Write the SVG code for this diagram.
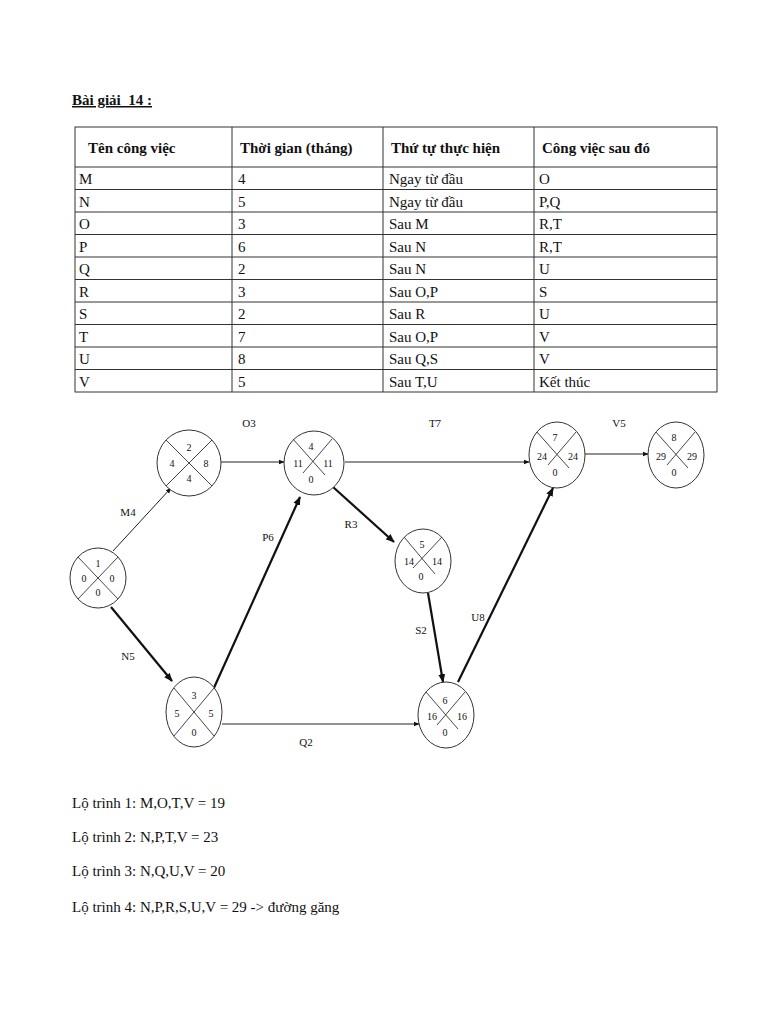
<svg xmlns="http://www.w3.org/2000/svg" width="768" height="1024" viewBox="0 0 768 1024">
<defs>
<style>
text{font-family:"Liberation Serif","Times New Roman",serif;fill:#111}
.t{font-size:15px}
.h{font-size:15px;font-weight:bold}
.n{font-size:10px;text-anchor:middle}
.l{font-size:11px;text-anchor:middle}
.grid{stroke:#333;stroke-width:1;fill:none}
.node{fill:#fff;stroke:#333;stroke-width:1}
.x{stroke:#333;stroke-width:0.9}
.thin{stroke:#222;stroke-width:1;fill:none}
.thick{stroke:#111;stroke-width:2.2;fill:none}
</style>
<marker id="a" viewBox="0 0 10 10" refX="9" refY="5" markerWidth="6" markerHeight="6" markerUnits="userSpaceOnUse" orient="auto"><path d="M0,1 L10,5 L0,9 z" fill="#111"/></marker>
<marker id="ab" viewBox="0 0 10 10" refX="9" refY="5" markerWidth="4" markerHeight="4" orient="auto"><path d="M0,1 L10,5 L0,9 z" fill="#111"/></marker>
</defs>
<rect width="768" height="1024" fill="#fff"/>

<text x="72" y="105" class="h" text-decoration="underline" style="white-space:pre">Bài giải  14 :</text>

<g id="table">
<rect x="75" y="127" width="642" height="265" class="grid"/>
<g class="grid">
<line x1="75" y1="167" x2="717" y2="167"/>
<line x1="75" y1="189.5" x2="717" y2="189.5"/>
<line x1="75" y1="212" x2="717" y2="212"/>
<line x1="75" y1="234.5" x2="717" y2="234.5"/>
<line x1="75" y1="257" x2="717" y2="257"/>
<line x1="75" y1="279.5" x2="717" y2="279.5"/>
<line x1="75" y1="302" x2="717" y2="302"/>
<line x1="75" y1="324.5" x2="717" y2="324.5"/>
<line x1="75" y1="347" x2="717" y2="347"/>
<line x1="75" y1="369.5" x2="717" y2="369.5"/>
<line x1="232" y1="127" x2="232" y2="392"/>
<line x1="383" y1="127" x2="383" y2="392"/>
<line x1="534" y1="127" x2="534" y2="392"/>
</g>
<text x="88" y="153" class="h">Tên công việc</text>
<text x="240" y="153" class="h">Thời gian (tháng)</text>
<text x="391" y="153" class="h">Thứ tự thực hiện</text>
<text x="542" y="153" class="h">Công việc sau đó</text>
<g>
<text x="79" y="184" class="t">M</text><text x="238" y="184" class="t">4</text><text x="389" y="184" class="t">Ngay từ đầu</text><text x="539" y="184" class="t">O</text>
<text x="79" y="206.5" class="t">N</text><text x="238" y="206.5" class="t">5</text><text x="389" y="206.5" class="t">Ngay từ đầu</text><text x="539" y="206.5" class="t">P,Q</text>
<text x="79" y="229" class="t">O</text><text x="238" y="229" class="t">3</text><text x="389" y="229" class="t">Sau M</text><text x="539" y="229" class="t">R,T</text>
<text x="79" y="251.5" class="t">P</text><text x="238" y="251.5" class="t">6</text><text x="389" y="251.5" class="t">Sau N</text><text x="539" y="251.5" class="t">R,T</text>
<text x="79" y="274" class="t">Q</text><text x="238" y="274" class="t">2</text><text x="389" y="274" class="t">Sau N</text><text x="539" y="274" class="t">U</text>
<text x="79" y="296.5" class="t">R</text><text x="238" y="296.5" class="t">3</text><text x="389" y="296.5" class="t">Sau O,P</text><text x="539" y="296.5" class="t">S</text>
<text x="79" y="319" class="t">S</text><text x="238" y="319" class="t">2</text><text x="389" y="319" class="t">Sau R</text><text x="539" y="319" class="t">U</text>
<text x="79" y="341.5" class="t">T</text><text x="238" y="341.5" class="t">7</text><text x="389" y="341.5" class="t">Sau O,P</text><text x="539" y="341.5" class="t">V</text>
<text x="79" y="364" class="t">U</text><text x="238" y="364" class="t">8</text><text x="389" y="364" class="t">Sau Q,S</text><text x="539" y="364" class="t">V</text>
<text x="79" y="386.5" class="t">V</text><text x="238" y="386.5" class="t">5</text><text x="389" y="386.5" class="t">Sau T,U</text><text x="539" y="386.5" class="t">Kết thúc</text>
</g>
</g>

<g id="connectors">
<line x1="113" y1="551" x2="171" y2="488" class="thin" marker-end="url(#a)"/>
<line x1="111" y1="607" x2="172" y2="681" class="thick" marker-end="url(#ab)"/>
<line x1="221" y1="462" x2="284" y2="462" class="thin" marker-end="url(#a)"/>
<line x1="213" y1="690" x2="300" y2="497" class="thick" marker-end="url(#ab)"/>
<line x1="333" y1="487" x2="394" y2="542" class="thick" marker-end="url(#ab)"/>
<line x1="345" y1="462" x2="529" y2="462" class="thin" marker-end="url(#a)"/>
<line x1="222" y1="724" x2="419" y2="724" class="thin" marker-end="url(#a)"/>
<line x1="428" y1="593" x2="443" y2="682" class="thick" marker-end="url(#ab)"/>
<line x1="458" y1="682" x2="553" y2="488" class="thick" marker-end="url(#ab)"/>
<line x1="585" y1="454" x2="648" y2="454" class="thin" stroke-width="1.5" marker-end="url(#a)"/>
<text x="128" y="516" class="l">M4</text>
<text x="128" y="660" class="l">N5</text>
<text x="249" y="427" class="l">O3</text>
<text x="268" y="541" class="l">P6</text>
<text x="351" y="528" class="l">R3</text>
<text x="435" y="427" class="l">T7</text>
<text x="306" y="746" class="l">Q2</text>
<text x="421" y="634" class="l">S2</text>
<text x="478" y="621" class="l">U8</text>
<text x="619" y="427" class="l">V5</text>
</g>

<g id="n1">
<ellipse cx="98" cy="578" rx="28" ry="30" class="node"/>
<line x1="78" y1="557" x2="118" y2="599" class="x"/><line x1="118" y1="557" x2="78" y2="599" class="x"/>
<text x="98" y="567" class="n">1</text><text x="84" y="582" class="n">0</text><text x="112" y="582" class="n">0</text><text x="98" y="596" class="n">0</text>
</g>
<g id="n2">
<ellipse cx="189" cy="463" rx="32" ry="33" class="node"/>
<line x1="166" y1="440" x2="212" y2="486" class="x"/><line x1="212" y1="440" x2="166" y2="486" class="x"/>
<text x="189" y="451" class="n">2</text><text x="172" y="467" class="n">4</text><text x="206" y="467" class="n">8</text><text x="189" y="482" class="n">4</text>
</g>
<g id="n3">
<ellipse cx="194" cy="712" rx="28" ry="35" class="node"/>
<line x1="174" y1="688" x2="214" y2="736" class="x"/><line x1="214" y1="688" x2="174" y2="736" class="x"/>
<text x="194" y="699" class="n">3</text><text x="177" y="717" class="n">5</text><text x="211" y="717" class="n">5</text><text x="194" y="736" class="n">0</text>
</g>
<g id="n4">
<ellipse cx="314" cy="463" rx="30" ry="32" class="node"/>
<line x1="293" y1="439" x2="325" y2="475" class="x"/><line x1="332" y1="439" x2="303" y2="473" class="x"/>
<text x="311" y="450" class="n">4</text><text x="298" y="467" class="n">11</text><text x="328" y="467" class="n">11</text><text x="311" y="483" class="n">0</text>
</g>
<g id="n5">
<ellipse cx="423" cy="561" rx="28" ry="32" class="node"/>
<line x1="404" y1="537" x2="435" y2="574" class="x"/><line x1="442" y1="537" x2="413" y2="568" class="x"/>
<text x="422" y="548" class="n">5</text><text x="409" y="565" class="n">14</text><text x="437" y="565" class="n">14</text><text x="421" y="580" class="n">0</text>
</g>
<g id="n6">
<ellipse cx="446" cy="715" rx="28" ry="33" class="node"/>
<line x1="426" y1="692" x2="458" y2="729" class="x"/><line x1="465" y1="692" x2="437" y2="725" class="x"/>
<text x="445" y="704" class="n">6</text><text x="432" y="720" class="n">16</text><text x="462" y="720" class="n">16</text><text x="445" y="736" class="n">0</text>
</g>
<g id="n7">
<ellipse cx="557" cy="455" rx="28" ry="33" class="node"/>
<line x1="537" y1="432" x2="569" y2="468" class="x"/><line x1="576" y1="432" x2="548" y2="465" class="x"/>
<text x="555" y="441" class="n">7</text><text x="542" y="460" class="n">24</text><text x="573" y="460" class="n">24</text><text x="555" y="476" class="n">0</text>
</g>
<g id="n8">
<ellipse cx="676" cy="455" rx="28" ry="33" class="node"/>
<line x1="656" y1="432" x2="688" y2="468" class="x"/><line x1="695" y1="432" x2="667" y2="465" class="x"/>
<text x="674" y="441" class="n">8</text><text x="661" y="460" class="n">29</text><text x="692" y="460" class="n">29</text><text x="674" y="476" class="n">0</text>
</g>

<g id="notes">
<text x="72" y="808" class="t">Lộ trình 1: M,O,T,V = 19</text>
<text x="72" y="842" class="t">Lộ trình 2: N,P,T,V = 23</text>
<text x="72" y="876" class="t">Lộ trình 3: N,Q,U,V = 20</text>
<text x="72" y="912" class="t">Lộ trình 4: N,P,R,S,U,V = 29 -&gt; đường găng</text>
</g>
</svg>
